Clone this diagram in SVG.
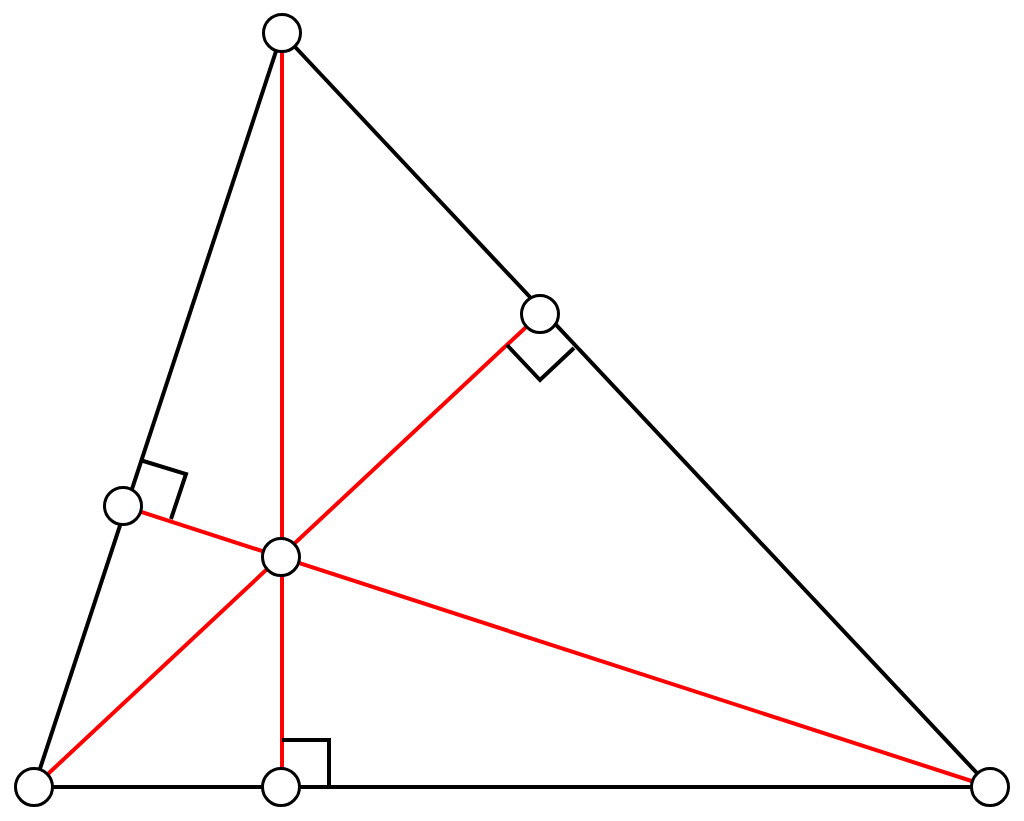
<svg xmlns="http://www.w3.org/2000/svg" width="1024" height="821" viewBox="0 0 1024 821">
<style>
.edge{stroke:#000;stroke-width:4;fill:none}
.alt{stroke:#f00;stroke-width:4;fill:none}
.ra{stroke:#000;stroke-width:4;fill:none;stroke-linejoin:miter}
.pt{fill:#fff;stroke:#000;stroke-width:3}
</style>
<rect width="1024" height="821" fill="#fff"/>
<g id="connectors">
<line class="edge" x1="282" y1="33" x2="34" y2="787"/>
<line class="edge" x1="282" y1="33" x2="990" y2="787"/>
<line class="edge" x1="34" y1="787" x2="990" y2="787"/>
<line class="alt" x1="282" y1="33" x2="282" y2="787"/>
<line class="alt" x1="34" y1="787" x2="540" y2="314"/>
<line class="alt" x1="990" y1="787" x2="123" y2="506"/>
<polyline class="ra" points="282,740 329,740 329,787"/>
<polyline class="ra" points="507,345 540,380 574,348"/>
<polyline class="ra" points="140,460 186,474 171,519"/>
</g>
<g id="A"><circle class="pt" cx="282" cy="33" r="18.5"/></g>
<g id="B"><circle class="pt" cx="34" cy="787" r="18.5"/></g>
<g id="C"><circle class="pt" cx="990" cy="787" r="18.5"/></g>
<g id="D"><circle class="pt" cx="281" cy="787" r="18.5"/></g>
<g id="E"><circle class="pt" cx="540" cy="314" r="18.5"/></g>
<g id="F"><circle class="pt" cx="123" cy="506" r="18.5"/></g>
<g id="H"><circle class="pt" cx="281" cy="557" r="18.5"/></g>
</svg>
